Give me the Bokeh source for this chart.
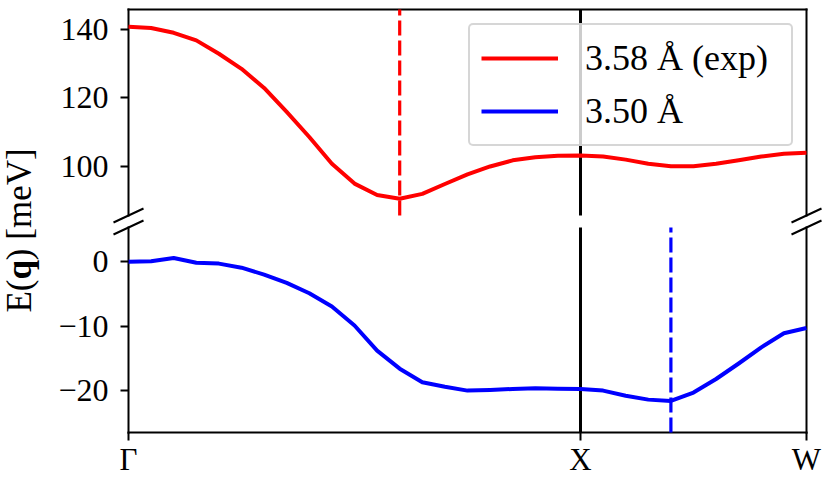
import numpy as np
from bokeh.plotting import figure
from bokeh.models import (Range1d, FixedTicker, CustomJSTickFormatter, LinearAxis,
                          Legend, LegendItem, Label)
from bokeh.embed import file_html
from bokeh.resources import INLINE

# ---------------- data ----------------
q = [0.00, 0.05, 0.10, 0.15, 0.20, 0.25, 0.30, 0.35, 0.40, 0.45,
     0.50, 0.55, 0.60, 0.65, 0.70, 0.75, 0.80, 0.85, 0.90, 0.95,
     1.00, 1.05, 1.10, 1.15, 1.20, 1.25, 1.30, 1.35, 1.40, 1.45, 1.50]
e_exp = [140.8, 140.4, 139.0, 136.8, 132.9, 128.5, 122.9, 115.9, 108.6, 100.8,
         95.0, 91.7, 90.6, 92.0, 94.9, 97.7, 100.0, 101.8, 102.7, 103.1,
         103.2, 102.9, 102.0, 100.8, 100.1, 100.1, 100.8, 101.8, 102.9, 103.7, 104.0]
e_350 = [0.0, 0.05, 0.56, -0.16, -0.3, -0.93, -2.0, -3.3, -4.9, -6.95,
         -9.9, -13.8, -16.6, -18.7, -19.4, -20.0, -19.9, -19.75, -19.65, -19.7,
         -19.75, -20.0, -20.8, -21.4, -21.6, -20.3, -18.2, -15.8, -13.3, -11.1, -10.3]
kpath_pos = [0.0, 1.0, 1.5]
kpath_labels = ["Γ", "X", "W"]
top_ticks = [100, 120, 140]
bottom_ticks = [-20, -10, 0]
label_exp = "3.58 Å (exp)"
label_350 = "3.50 Å"
ylabel_parts = ["E(", "q", ") [meV]"]
top_lim = (85.7, 145.8)
bot_lim = (-26.5, 5.3)

# ---------------- layout / style ----------------
FONT = "Liberation Serif"
TICK_FS = "32px"
XTICK_FS = "31px"
LEG_FS = "36px"
YLAB_SIZE = 35
LW_DATA = 4
W_CANVAS, H_CANVAS = 825, 478
GX0, GX1 = 128, 806           # pixel columns of path start / end
TOP_Y0, TOP_Y1 = 9, 215       # pixel rows of upper panel (top, bottom)
BOT_Y0, BOT_Y1 = 227, 432     # pixel rows of lower panel (top, bottom)
q_lim = (kpath_pos[0], kpath_pos[-1])


def x_at(px):
    return q_lim[0] + (px - GX0) * (q_lim[1] - q_lim[0]) / (GX1 - GX0)


def y_at(py, lim, y0, y1):
    return lim[1] - (py - y0) * (lim[1] - lim[0]) / (y1 - y0)


def ty(py):
    return y_at(py, top_lim, TOP_Y0, TOP_Y1)


def by(py):
    return y_at(py, bot_lim, BOT_Y0, BOT_Y1)


p = figure(width=W_CANVAS, height=H_CANVAS,
           x_range=Range1d(x_at(0), x_at(W_CANVAS)),
           y_range=Range1d(ty(H_CANVAS), ty(0)),
           x_axis_location=None, y_axis_location=None, title=None,
           toolbar_location=None, output_backend="svg", min_border=0,
           outline_line_color=None, background_fill_color="white",
           border_fill_color="white")
p.extra_y_ranges = {"bot": Range1d(by(H_CANVAS), by(0))}
p.grid.visible = False

minus_fmt = CustomJSTickFormatter(code="return tick < 0 ? '\\u2212' + Math.abs(tick) : String(tick);")
k_fmt = CustomJSTickFormatter(args=dict(pos=kpath_pos, names=kpath_labels), code="""
for (let i = 0; i < pos.length; i++) { if (Math.abs(pos[i] - tick) < 1e-9) return names[i]; }
return "";
""")


def style_axis(ax, standoff, fs):
    ax.axis_line_color = None
    ax.major_tick_line_width = 2
    ax.major_tick_line_color = "black"
    ax.major_tick_out = 8
    ax.major_tick_in = 0
    ax.minor_tick_line_color = None
    ax.major_label_text_font = FONT
    ax.major_label_text_font_size = fs
    ax.major_label_text_color = "black"
    ax.major_label_standoff = standoff


ax_top = LinearAxis(fixed_location=q_lim[0], bounds=top_lim,
                    ticker=FixedTicker(ticks=top_ticks), formatter=minus_fmt)
style_axis(ax_top, 12, TICK_FS)
p.add_layout(ax_top, "left")

ax_bot = LinearAxis(y_range_name="bot", fixed_location=q_lim[0], bounds=bot_lim,
                    ticker=FixedTicker(ticks=bottom_ticks), formatter=minus_fmt)
style_axis(ax_bot, 12, TICK_FS)
p.add_layout(ax_bot, "left")

ax_x = LinearAxis(y_range_name="bot", fixed_location=bot_lim[0], bounds=q_lim,
                  ticker=FixedTicker(ticks=kpath_pos), formatter=k_fmt)
style_axis(ax_x, 1, XTICK_FS)
p.add_layout(ax_x, "below")

# spines (upper panel: left, top, right; lower panel: left, bottom, right)
spine = dict(line_color="black", line_width=2, line_cap="square")
p.segment(x0=[q_lim[0], q_lim[0], q_lim[1]], y0=[top_lim[0], top_lim[1], top_lim[0]],
          x1=[q_lim[0], q_lim[1], q_lim[1]], y1=[top_lim[1], top_lim[1], top_lim[1]], **spine)
p.segment(x0=[q_lim[0], q_lim[0], q_lim[1]], y0=[bot_lim[0], bot_lim[0], bot_lim[0]],
          x1=[q_lim[0], q_lim[1], q_lim[1]], y1=[bot_lim[1], bot_lim[0], bot_lim[1]],
          y_range_name="bot", **spine)

# X high-symmetry line in both panels
xs = kpath_pos[1]
p.segment(x0=[xs], y0=[top_lim[0]], x1=[xs], y1=[top_lim[1]], line_color="black", line_width=3)
p.segment(x0=[xs], y0=[bot_lim[0]], x1=[xs], y1=[bot_lim[1]], line_color="black",
          line_width=3, y_range_name="bot")

# minima markers
red_min_x = q[int(np.argmin(e_exp))]
blue_min_x = q[int(np.argmin(e_350))]
p.segment(x0=[red_min_x], y0=[top_lim[0]], x1=[red_min_x], y1=[top_lim[1]],
          line_color="red", line_width=3.2, line_dash="15 5")
p.segment(x0=[blue_min_x], y0=[bot_lim[0]], x1=[blue_min_x], y1=[bot_lim[1]],
          line_color="blue", line_width=3.2, line_dash="15 5", y_range_name="bot")

# data
r_exp = p.line(q, e_exp, line_color="red", line_width=LW_DATA, line_join="round")
r_350 = p.line(q, e_350, line_color="blue", line_width=LW_DATA, line_join="round",
               y_range_name="bot")

# break marks
dxm = x_at(GX0 + 15) - x_at(GX0)
dyt = ty(TOP_Y0) - ty(TOP_Y0 + 7)
dyb = by(BOT_Y0) - by(BOT_Y0 + 7)
for xv in q_lim:
    p.segment(x0=[xv - dxm], y0=[top_lim[0] - dyt], x1=[xv + dxm], y1=[top_lim[0] + dyt],
              line_color="black", line_width=2)
    p.segment(x0=[xv - dxm], y0=[bot_lim[1] - dyb], x1=[xv + dxm], y1=[bot_lim[1] + dyb],
              line_color="black", line_width=2, y_range_name="bot")

# legend
LEG_W, LEG_H = 321, 119
leg_right = GX1 - 17
leg_top = TOP_Y0 + 18
legend = Legend(items=[LegendItem(label=label_exp, renderers=[r_exp]),
                       LegendItem(label=label_350, renderers=[r_350])],
                location=(leg_right - LEG_W, H_CANVAS - (leg_top + LEG_H)),
                padding=11, spacing=9, margin=0,
                glyph_width=77, glyph_height=44, label_height=44, label_width=195,
                label_standoff=27, label_text_font=FONT, label_text_font_size=LEG_FS,
                label_text_color="black",
                border_line_color="#cccccc", border_line_alpha=0.8, border_line_width=2,
                background_fill_color="white", background_fill_alpha=0.8)
try:
    legend.border_radius = 5
except Exception:
    pass
p.add_layout(legend)

# y label (E(q) with bold q), rotated
qw = 0.556 * YLAB_SIZE
w_first = 0.944 * YLAB_SIZE
w_total = w_first + qw + 3.193 * YLAB_SIZE
yc_px = 230
q_center_px = yc_px + w_total / 2 - w_first - qw / 2
base_x = x_at(19)
common = dict(x=base_x, angle=np.pi / 2, text_baseline="alphabetic", text_font=FONT,
              text_font_size=f"{YLAB_SIZE}px", text_color="black")
p.add_layout(Label(y=ty(q_center_px + qw / 2), text=ylabel_parts[0], text_align="right", **common))
p.add_layout(Label(y=ty(q_center_px), text=ylabel_parts[1], text_align="center",
                   text_font_style="bold", **common))
p.add_layout(Label(y=ty(q_center_px - qw / 2), text=ylabel_parts[2], text_align="left", **common))

open("out.html", "w").write(file_html(p, INLINE))
